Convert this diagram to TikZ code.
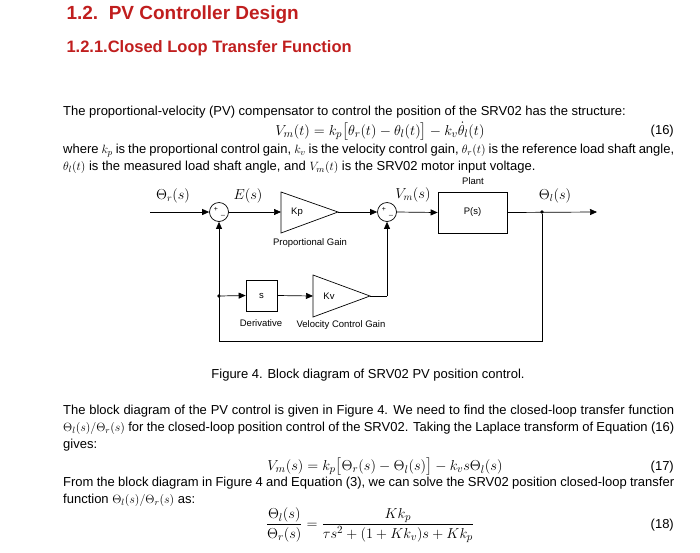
\documentclass[tikz,border=0pt]{standalone}
\usepackage{amsmath}
\usepackage{fontspec}
\setmainfont{Liberation Sans}
\usetikzlibrary{arrows.meta}
\definecolor{hred}{RGB}{192,30,30}
\begin{document}
\begin{tikzpicture}[x=1pt,y=-1pt,
  sig/.style={-{Triangle[length=7pt,width=6pt]},line width=0.7pt},
  ln/.style={line width=0.7pt},
  sumc/.style={circle,draw,line width=0.7pt,minimum size=19pt,inner sep=0pt},
  blk/.style={draw,line width=0.7pt,inner sep=0pt},
  small/.style={font=\fontsize{9.5}{11}\selectfont},
  body/.style={anchor=north west,text width=611pt,align=justify,inner sep=0pt,font=\fontsize{13}{17}\selectfont},
  eqn/.style={font=\fontsize{15}{17}\selectfont,inner sep=0pt},
  num/.style={font=\fontsize{13}{15}\selectfont,inner sep=0pt},
  big/.style={font=\fontsize{14}{16}\selectfont},
  dot/.style={circle,fill,inner sep=1.3pt}]
\useasboundingbox (0,0) rectangle (700,552);
\node[anchor=west,text=hred,font=\bfseries\fontsize{19}{21}\selectfont] (t1) at (63,15) {1.2.\ \ PV Controller Design};
\node[anchor=west,text=hred,font=\bfseries\fontsize{16.5}{19}\selectfont] (t2) at (63,48) {1.2.1.Closed Loop Transfer Function};
\node[body] (p1) at (63,106) {The proportional-velocity (PV) compensator to control the position of the SRV02 has the structure:};
\node[eqn] (e16) at (380,131) {$V_m(t)=k_p\big[\theta_r(t)-\theta_l(t)\big]-k_v\dot\theta_l(t)$};
\node[anchor=east,num] (n16) at (674,131) {(16)};
\node[body] (p2) at (63,144) {where $k_p$ is the proportional control gain, $k_v$ is the velocity control gain, $\theta_r(t)$ is the reference load shaft angle, $\theta_l(t)$ is the measured load shaft angle, and $V_m(t)$ is the SRV02 motor input voltage.};
% diagram
\coordinate (in) at (150,212);
\node[sumc] (s1) at (219,212) {};
\node[font=\scriptsize] at (216,209) {+};
\node[font=\scriptsize] at (223,215) {\_};
\coordinate (kpin) at (281,212);
\coordinate (kpout) at (338,212);
\draw[ln] (281,192) -- (kpout) -- (281,233) -- cycle;
\node[small] (kpl) at (297,212) {Kp};
\node[sumc] (s2) at (387,212) {};
\node[font=\scriptsize] at (384,209) {+};
\node[font=\scriptsize] at (391,215) {\_};
\node[blk,minimum width=69pt,minimum height=41pt] (pl) at (472.5,212.5) {};
\node[small] at (472.5,212.5) {P(s)};
\node[small] at (473,181) {Plant};
\node[dot] (d1) at (542,212) {};
\coordinate (out) at (597,212);
\coordinate (b1) at (542,341);
\coordinate (b2) at (219,341);
\node[dot] (d2) at (219,296) {};
\node[blk,minimum width=31pt,minimum height=31pt] (sb) at (261.5,295.5) {};
\node[small] at (261.5,295.5) {s};
\coordinate (kvin) at (313,296);
\coordinate (kvout) at (370,296);
\draw[ln] (313,275) -- (kvout) -- (313,317) -- cycle;
\node[small] (kvl) at (329,296) {Kv};
\coordinate (kc) at (387,296);
\draw[sig] (in) -- (s1.west);
\draw[sig] (s1.east) -- (kpin);
\draw[sig] (kpout) -- (s2.west);
\draw[sig] (s2.east) -- (pl.west);
\draw[sig] (pl.east) -- (out);
\draw[ln] (d1) -- (b1) -- (b2) -- (d2.center);
\draw[sig] (d2.center) -- (s1.south);
\draw[sig] (d2) -- (sb.west);
\draw[sig] (sb.east) -- (kvin);
\draw[ln] (kvout) -- (kc);
\draw[sig] (kc) -- (s2.south);
\node[big] at (173,196) {$\Theta_r(s)$};
\node[big] at (248,196) {$E(s)$};
\node[big] at (413,195) {$V_m(s)$};
\node[big] at (555,196) {$\Theta_l(s)$};
\node[small] at (310,243) {Proportional Gain};
\node[small] at (261,323) {Derivative};
\node[small] at (341,325) {Velocity Control Gain};
\node[font=\fontsize{13}{15}\selectfont] (cap) at (368,375) {Figure 4. Block diagram of SRV02 PV position control.};
\node[body] (p3) at (63,405) {The block diagram of the PV control is given in Figure 4. We need to find the closed-loop transfer function $\Theta_l(s)/\Theta_r(s)$ for the closed-loop position control of the SRV02. Taking the Laplace transform of Equation (16) gives:};
\node[eqn] (e17) at (385,467) {$V_m(s)=k_p\big[\Theta_r(s)-\Theta_l(s)\big]-k_vs\Theta_l(s)$};
\node[anchor=east,num] (n17) at (674,467) {(17)};
\node[body] (p4) at (63,477) {From the block diagram in Figure 4 and Equation (3), we can solve the SRV02 position closed-loop transfer function $\Theta_l(s)/\Theta_r(s)$ as:};
\node[eqn] (e18) at (370,525) {$\dfrac{\Theta_l(s)}{\Theta_r(s)}=\dfrac{Kk_p}{\tau s^2+(1+Kk_v)s+Kk_p}$};
\node[anchor=east,num] (n18) at (674,525) {(18)};
\end{tikzpicture}
\end{document}
